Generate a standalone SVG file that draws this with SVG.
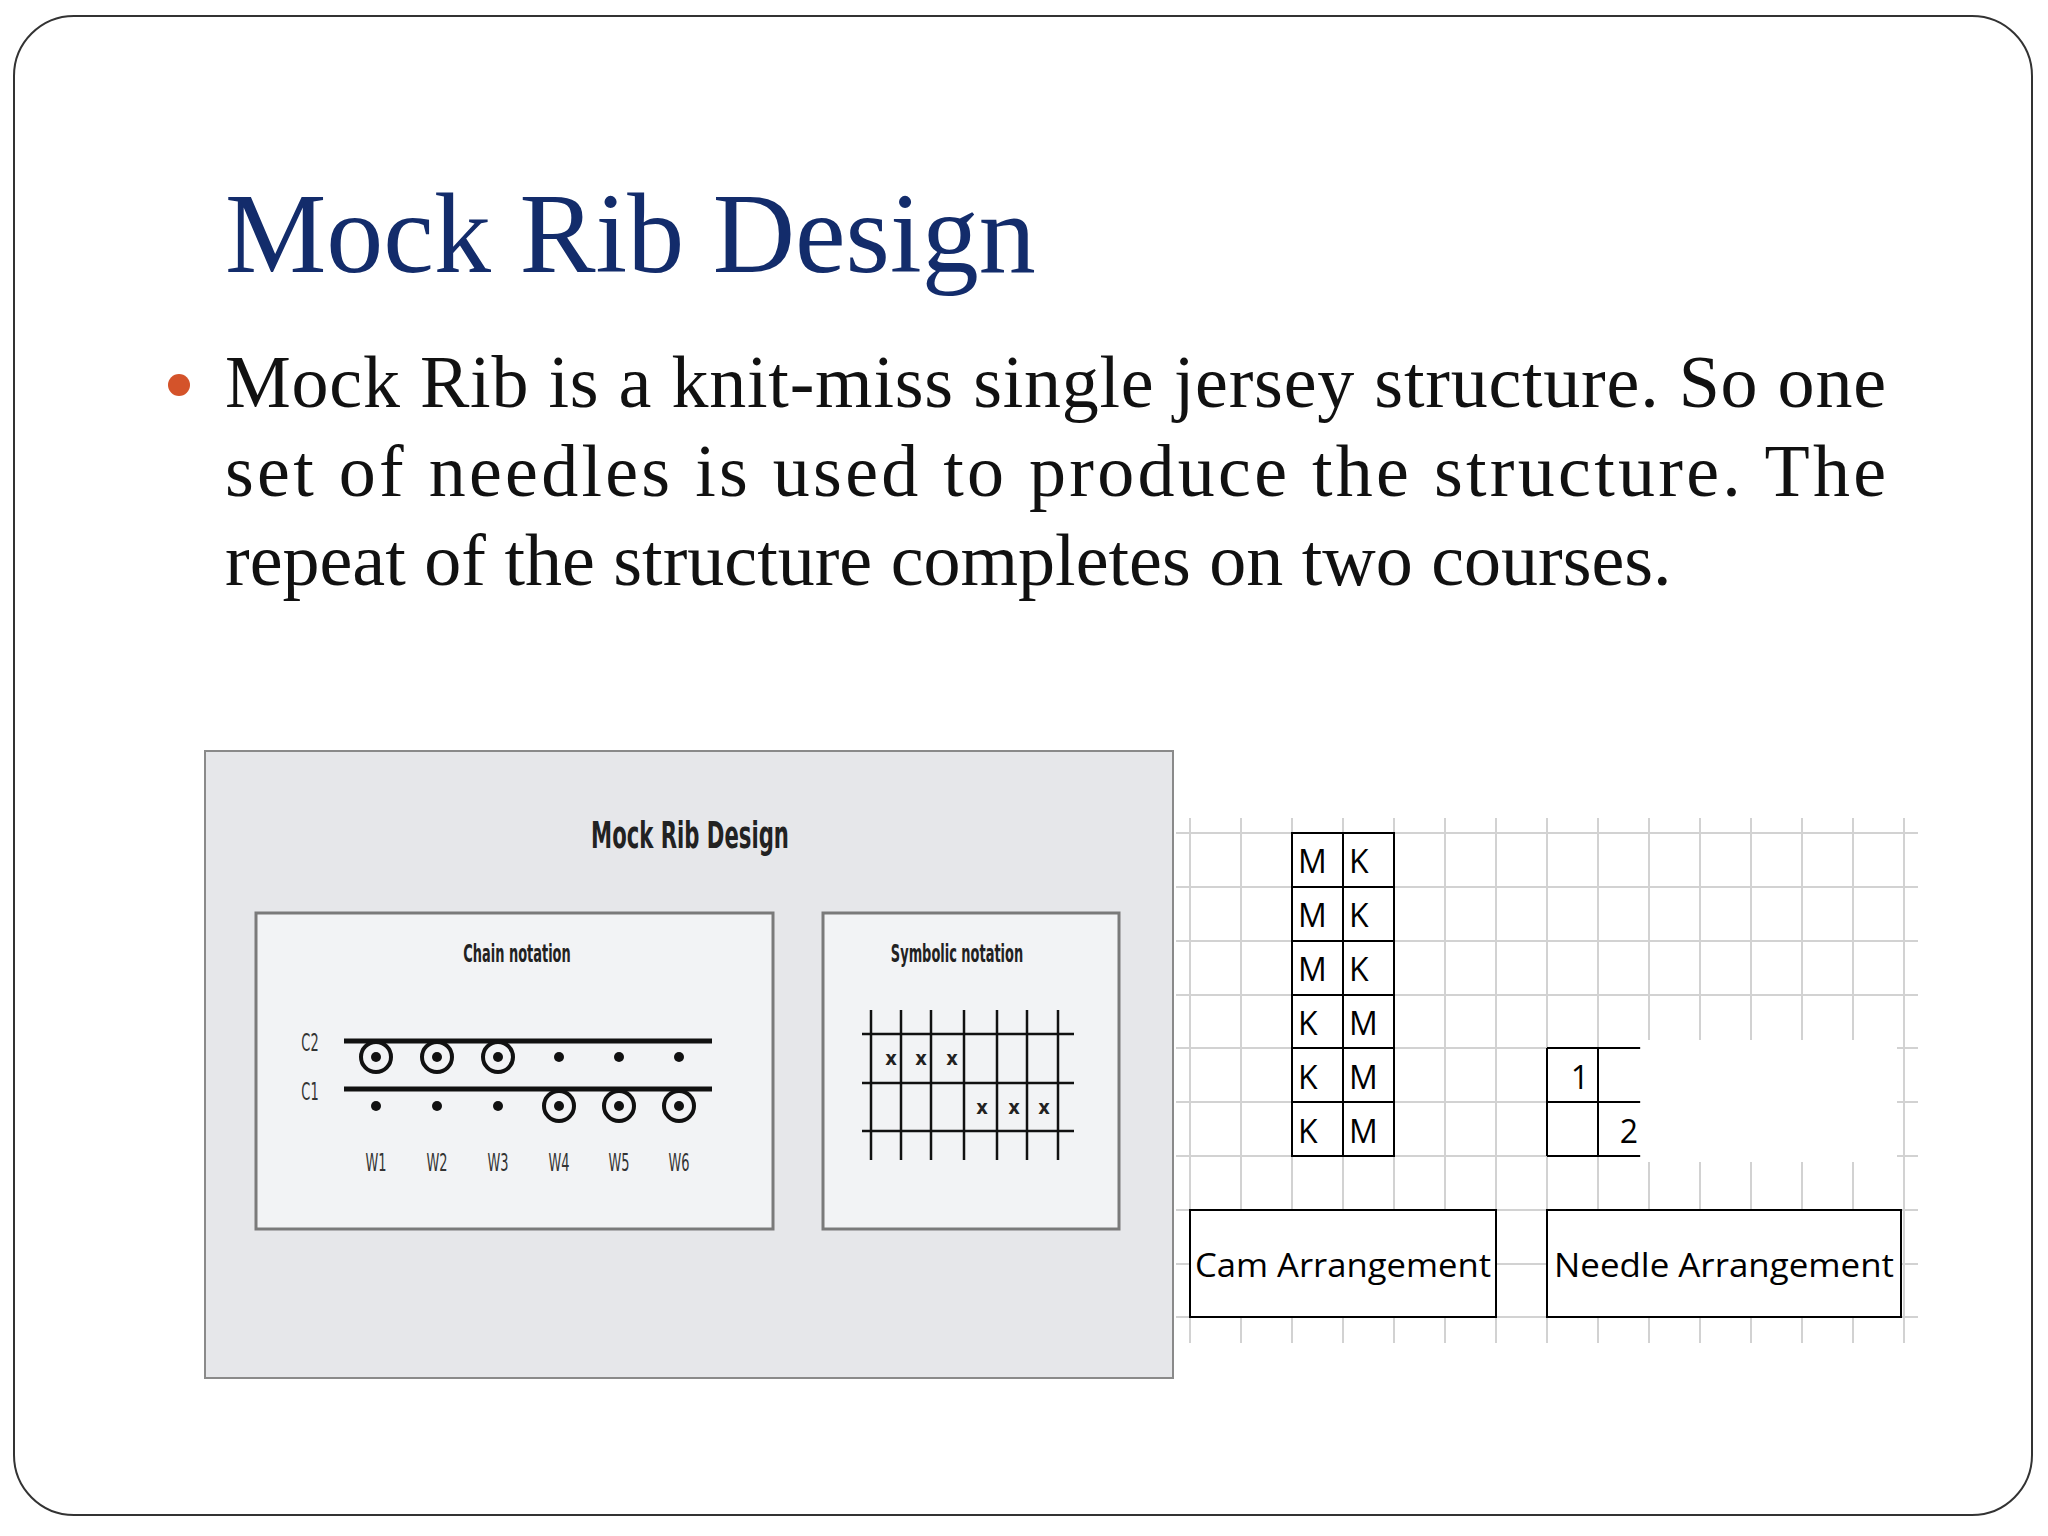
<svg xmlns="http://www.w3.org/2000/svg" width="2048" height="1536" viewBox="0 0 2048 1536">
<style>
.body{font-family:"Liberation Serif",serif;font-size:74px;fill:#111}
.cn{font-family:"DejaVu Sans Condensed","Liberation Sans",sans-serif;font-weight:bold;fill:#222}
.grid{stroke:#d2d2d2;stroke-width:2}
.tb{stroke:#000;stroke-width:2;fill:none}
.xl{font-family:"Open Sans","Noto Sans",sans-serif;font-size:32px;fill:#000}
.dot{fill:#111}
.ring{fill:none;stroke:#111;stroke-width:4}
</style>
<rect x="0" y="0" width="2048" height="1536" fill="#fff"/>
<rect x="14" y="16" width="2018" height="1499" rx="60" fill="#fff" stroke="#333" stroke-width="2"/>
<text x="225" y="272" font-family="Liberation Serif,serif" font-size="114" fill="#132c6b">Mock Rib Design</text>
<circle cx="179" cy="385" r="11" fill="#d4532a"/>
<text class="body" x="225" y="407" textLength="1661" lengthAdjust="spacing">Mock Rib is a knit-miss single jersey structure. So one</text>
<text class="body" x="225" y="496" textLength="1661" lengthAdjust="spacing">set of needles is used to produce the structure. The</text>
<text class="body" x="225" y="585">repeat of the structure completes on two courses.</text>

<g id="left-panel">
<rect x="205" y="751" width="968" height="627" fill="#e6e7ea" stroke="#8a8a8a" stroke-width="2"/>
<text class="cn" x="690" y="848" font-size="38" text-anchor="middle" transform="translate(690 0) scale(0.62 1) translate(-690 0)">Mock Rib Design</text>
<rect x="256" y="913" width="517" height="316" fill="#f2f3f5" stroke="#7a7a7a" stroke-width="3"/>
<text class="cn" x="517" y="962" font-size="24" text-anchor="middle" transform="translate(517 0) scale(0.6 1) translate(-517 0)">Chain notation</text>
<rect x="823" y="913" width="296" height="316" fill="#f2f3f5" stroke="#7a7a7a" stroke-width="3"/>
<text class="cn" x="957" y="962" font-size="24" text-anchor="middle" transform="translate(957 0) scale(0.6 1) translate(-957 0)">Symbolic notation</text>
<g font-family="DejaVu Sans Condensed,sans-serif" font-size="24" fill="#333" text-anchor="middle">
<text x="310" y="1051" transform="translate(310 0) scale(0.6 1) translate(-310 0)">C2</text>
<text x="310" y="1100" transform="translate(310 0) scale(0.6 1) translate(-310 0)">C1</text>
<text x="376" y="1171" transform="translate(376 0) scale(0.6 1) translate(-376 0)">W1</text>
<text x="437" y="1171" transform="translate(437 0) scale(0.6 1) translate(-437 0)">W2</text>
<text x="498" y="1171" transform="translate(498 0) scale(0.6 1) translate(-498 0)">W3</text>
<text x="559" y="1171" transform="translate(559 0) scale(0.6 1) translate(-559 0)">W4</text>
<text x="619" y="1171" transform="translate(619 0) scale(0.6 1) translate(-619 0)">W5</text>
<text x="679" y="1171" transform="translate(679 0) scale(0.6 1) translate(-679 0)">W6</text>
</g>
<line x1="344" y1="1041" x2="712" y2="1041" stroke="#111" stroke-width="5"/>
<line x1="344" y1="1089" x2="712" y2="1089" stroke="#111" stroke-width="5"/>
<circle class="ring" cx="376" cy="1057" r="15"/><circle class="dot" cx="376" cy="1057" r="5"/>
<circle class="ring" cx="437" cy="1057" r="15"/><circle class="dot" cx="437" cy="1057" r="5"/>
<circle class="ring" cx="498" cy="1057" r="15"/><circle class="dot" cx="498" cy="1057" r="5"/>
<circle class="dot" cx="559" cy="1057" r="5"/><circle class="dot" cx="619" cy="1057" r="5"/><circle class="dot" cx="679" cy="1057" r="5"/>
<circle class="dot" cx="376" cy="1106" r="5"/><circle class="dot" cx="437" cy="1106" r="5"/><circle class="dot" cx="498" cy="1106" r="5"/>
<circle class="ring" cx="559" cy="1106" r="15"/><circle class="dot" cx="559" cy="1106" r="5"/>
<circle class="ring" cx="619" cy="1106" r="15"/><circle class="dot" cx="619" cy="1106" r="5"/>
<circle class="ring" cx="679" cy="1106" r="15"/><circle class="dot" cx="679" cy="1106" r="5"/>
<g stroke="#111" stroke-width="2.5">
<line x1="871" y1="1010" x2="871" y2="1160"/><line x1="901" y1="1010" x2="901" y2="1160"/><line x1="931" y1="1010" x2="931" y2="1160"/><line x1="964" y1="1010" x2="964" y2="1160"/><line x1="997" y1="1010" x2="997" y2="1160"/><line x1="1027" y1="1010" x2="1027" y2="1160"/><line x1="1058" y1="1010" x2="1058" y2="1160"/>
<line x1="862" y1="1034" x2="1074" y2="1034"/><line x1="862" y1="1083" x2="1074" y2="1083"/><line x1="862" y1="1131" x2="1074" y2="1131"/>
</g>
<g font-family="DejaVu Sans Condensed,sans-serif" font-size="20" font-weight="bold" fill="#222" text-anchor="middle">
<text x="891" y="1065">x</text><text x="921" y="1065">x</text><text x="952" y="1065">x</text>
<text x="982" y="1114">x</text><text x="1014" y="1114">x</text><text x="1044" y="1114">x</text>
</g>
</g>

<g id="grid">
<g class="grid">
<line x1="1190" y1="818" x2="1190" y2="1343"/><line x1="1241" y1="818" x2="1241" y2="1343"/><line x1="1292" y1="818" x2="1292" y2="1343"/><line x1="1343" y1="818" x2="1343" y2="1343"/><line x1="1394" y1="818" x2="1394" y2="1343"/><line x1="1445" y1="818" x2="1445" y2="1343"/><line x1="1496" y1="818" x2="1496" y2="1343"/><line x1="1547" y1="818" x2="1547" y2="1343"/><line x1="1598" y1="818" x2="1598" y2="1343"/><line x1="1649" y1="818" x2="1649" y2="1343"/><line x1="1700" y1="818" x2="1700" y2="1343"/><line x1="1751" y1="818" x2="1751" y2="1343"/><line x1="1802" y1="818" x2="1802" y2="1343"/><line x1="1853" y1="818" x2="1853" y2="1343"/><line x1="1904" y1="818" x2="1904" y2="1343"/>
<line x1="1176" y1="833" x2="1918" y2="833"/><line x1="1176" y1="887" x2="1918" y2="887"/><line x1="1176" y1="941" x2="1918" y2="941"/><line x1="1176" y1="995" x2="1918" y2="995"/><line x1="1176" y1="1048" x2="1918" y2="1048"/><line x1="1176" y1="1102" x2="1918" y2="1102"/><line x1="1176" y1="1156" x2="1918" y2="1156"/><line x1="1176" y1="1210" x2="1918" y2="1210"/><line x1="1176" y1="1264" x2="1918" y2="1264"/><line x1="1176" y1="1317" x2="1918" y2="1317"/>
</g>
<rect x="1641" y="1040" width="256" height="122" fill="#fff"/>
</g>

<g id="cam-table">
<rect class="tb" x="1292" y="833" width="102" height="323"/>
<line class="tb" x1="1343" y1="833" x2="1343" y2="1156"/>
<line class="tb" x1="1292" y1="887" x2="1394" y2="887"/><line class="tb" x1="1292" y1="941" x2="1394" y2="941"/><line class="tb" x1="1292" y1="995" x2="1394" y2="995"/><line class="tb" x1="1292" y1="1048" x2="1394" y2="1048"/><line class="tb" x1="1292" y1="1102" x2="1394" y2="1102"/>
<g class="xl">
<text x="1298" y="873">M</text><text x="1349" y="873">K</text>
<text x="1298" y="927">M</text><text x="1349" y="927">K</text>
<text x="1298" y="981">M</text><text x="1349" y="981">K</text>
<text x="1298" y="1035">K</text><text x="1349" y="1035">M</text>
<text x="1298" y="1089">K</text><text x="1349" y="1089">M</text>
<text x="1298" y="1143">K</text><text x="1349" y="1143">M</text>
</g>
</g>

<g id="needle-table">
<line class="tb" x1="1547" y1="1048" x2="1547" y2="1156"/><line class="tb" x1="1598" y1="1048" x2="1598" y2="1156"/>
<line class="tb" x1="1547" y1="1048" x2="1640" y2="1048"/><line class="tb" x1="1547" y1="1102" x2="1640" y2="1102"/><line class="tb" x1="1547" y1="1156" x2="1640" y2="1156"/>
<text class="xl" x="1589" y="1089" text-anchor="end">1</text>
<text class="xl" x="1638" y="1143" text-anchor="end">2</text>
</g>

<g id="cam-box">
<rect x="1190" y="1210" width="306" height="107" fill="#fff" stroke="#000" stroke-width="2"/>
<text class="xl" x="1195" y="1277" textLength="296" lengthAdjust="spacingAndGlyphs">Cam Arrangement</text>
</g>
<g id="needle-box">
<rect x="1547" y="1210" width="354" height="107" fill="#fff" stroke="#000" stroke-width="2"/>
<text class="xl" x="1554" y="1277" textLength="340" lengthAdjust="spacingAndGlyphs">Needle Arrangement</text>
</g>
</svg>
